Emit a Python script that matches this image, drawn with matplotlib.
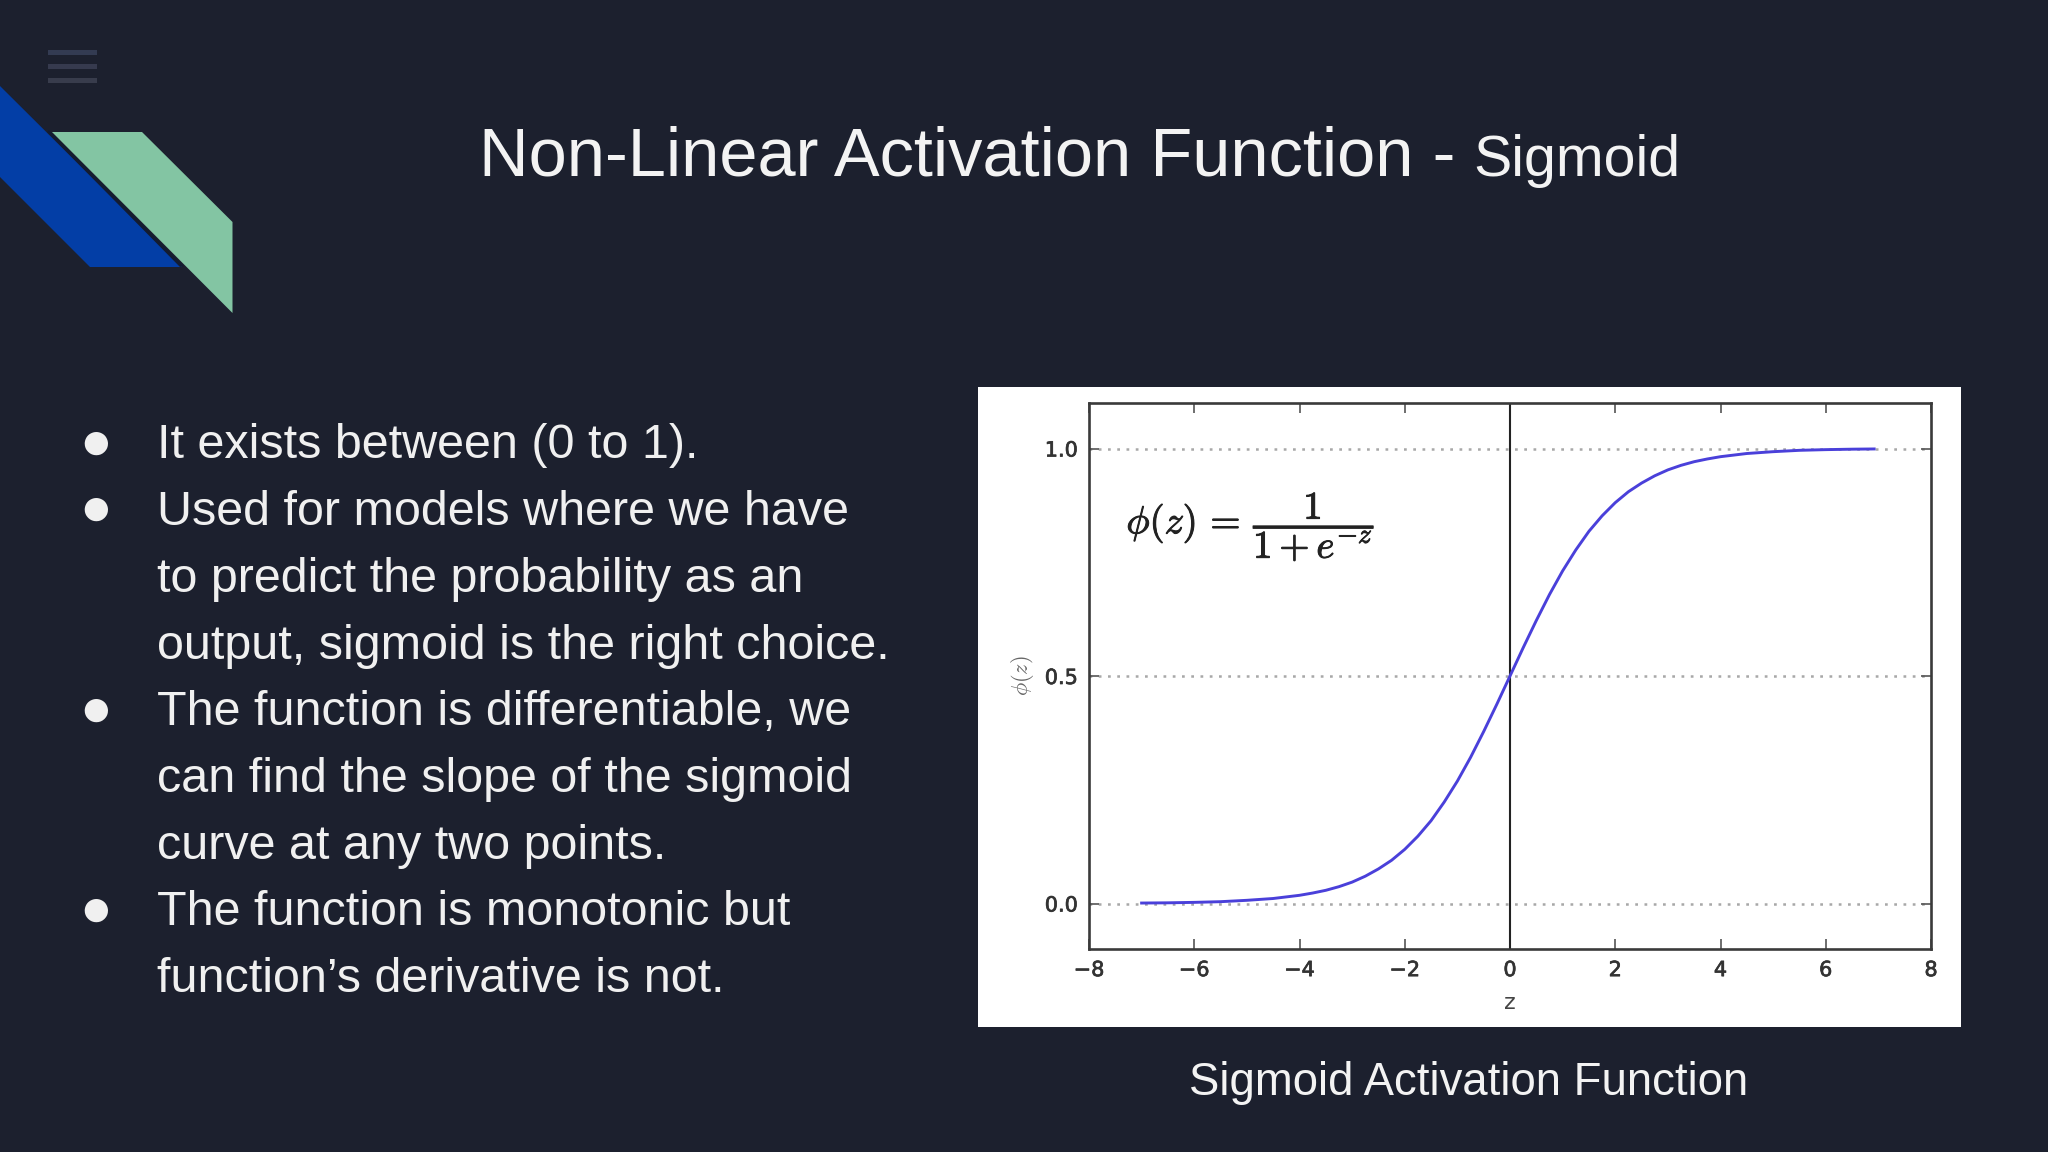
import matplotlib
matplotlib.use("Agg")
import matplotlib.pyplot as plt
import matplotlib.patheffects as pe
from matplotlib.patches import Polygon, Rectangle

plt.rcParams['mathtext.fontset'] = 'cm'

# ---- data ----
z_values = [-7, -6.5, -6, -5.5, -5, -4.5, -4, -3.75, -3.5, -3.25, -3, -2.75, -2.5, -2.25, -2,
            -1.75, -1.5, -1.25, -1, -0.75, -0.5, -0.25, 0, 0.25, 0.5, 0.75, 1, 1.25, 1.5,
            1.75, 2, 2.25, 2.5, 2.75, 3, 3.25, 3.5, 3.75, 4, 4.5, 5, 5.5, 6, 6.5, 6.92]
phi_values = [0.001, 0.0015, 0.0025, 0.004, 0.007, 0.011, 0.018, 0.023, 0.029, 0.037, 0.047,
              0.060, 0.076, 0.095, 0.119, 0.148, 0.182, 0.223, 0.269, 0.321, 0.378, 0.438,
              0.5, 0.562, 0.622, 0.679, 0.731, 0.777, 0.818, 0.852, 0.881, 0.905, 0.924,
              0.940, 0.953, 0.963, 0.971, 0.977, 0.982, 0.989, 0.993, 0.996, 0.9975, 0.9985, 0.999]
x_ticks = [-8, -6, -4, -2, 0, 2, 4, 6, 8]
y_ticks = [0.0, 0.5, 1.0]
title_main = "Non-Linear Activation Function - "
title_sub = "Sigmoid"
caption = "Sigmoid Activation Function"
body_lines = ["It exists between (0 to 1).",
              "Used for models where we have",
              "to predict the probability as an",
              "output, sigmoid is the right choice.",
              "The function is differentiable, we",
              "can find the slope of the sigmoid",
              "curve at any two points.",
              "The function is monotonic but",
              "function\u2019s derivative is not."]
bullet_lines = [0, 1, 4, 7]

W, H = 2048, 1152
BG = "#1c202e"
SANS = ["Liberation Sans", "DejaVu Sans"]

fig = plt.figure(figsize=(W / 100, H / 100), dpi=100, facecolor=BG)

# slide layer in pixel coordinates
bg = fig.add_axes([0, 0, 1, 1])
bg.set_xlim(0, W)
bg.set_ylim(H, 0)
bg.axis("off")

bg.add_patch(Polygon([(0, 86), (182, 267), (90, 267), (0, 177)], closed=True, fc="#033ea6", ec="none"))
bg.add_patch(Polygon([(49, 130), (184, 266), (180, 267), (47, 132)], closed=True, fc="#141c30", ec="none"))
bg.add_patch(Polygon([(52, 132), (142, 132), (232.5, 222), (232.5, 313)], closed=True, fc="#83c5a3", ec="none"))
for y, col in zip((52, 66, 80), ("#333b52", "#363a4e", "#383c4c")):
    bg.add_patch(Rectangle((48, y - 2.5), 49, 5, fc=col, ec="none"))
bg.add_patch(Rectangle((977.5, 387), 983.5, 640, fc="white", ec="none"))

bg.text(479, 175, title_main, color="#f3f3f3", fontsize=49.4, family=SANS, va="baseline")
bg.text(1473, 176, title_sub, color="#f3f3f3", fontsize=41.2, family=SANS, va="baseline")
bg.text(1469, 1095, caption, color="#f3f3f3", fontsize=32.8, family=SANS, va="baseline", ha="center")

for i, line in enumerate(body_lines):
    yb = 458.5 + i * 66.7
    bg.text(157, yb, line, color="#f0f0f0", fontsize=34.9, family=SANS, va="baseline")
    if i in bullet_lines:
        bg.text(96, yb - 14, "\u25cf", color="#f0f0f0", fontsize=39, family=SANS, va="center", ha="center")

# chart
left, right, top, bottom = 1089, 1931, 403, 949
ax = fig.add_axes([left / W, 1 - bottom / H, (right - left) / W, (bottom - top) / H], facecolor="white")
ax.set_xlim(-8, 8)
ax.set_ylim(-0.1, 1.1)
for yv in y_ticks:
    ax.axhline(yv, color="#a8a8a8", ls=(0, (1.1, 2.6)), lw=1.8, zorder=1)
ax.axvline(0, color="#222222", lw=1.5, zorder=2)
ax.plot(z_values, phi_values, color="#4a40da", lw=2.1, zorder=3)
ax.set_xticks(x_ticks)
ax.set_yticks(y_ticks)
ax.set_yticklabels([f"{v:.1f}" for v in y_ticks])
ax.tick_params(direction="in", length=7, width=1.2, color="#555555", top=True, right=True,
               labelsize=15, labelcolor="#333333", pad=8)
stroke = [pe.withStroke(linewidth=0.5, foreground="#333333")]
for lab in ax.get_xticklabels() + ax.get_yticklabels():
    lab.set_path_effects(stroke)
for s in ax.spines.values():
    s.set_linewidth(1.9)
    s.set_color("#3a3a3a")
ax.set_xlabel("z", fontsize=16, color="#444444", labelpad=9)
ax.set_ylabel(r"$\phi(z)$", fontsize=16, color="#666666", labelpad=6)
eq = ax.text(-7.29, 0.83, r"$\phi(z)\,=\,\dfrac{1}{1+e^{-z}}$", fontsize=28, color="#222222", va="center", ha="left")
eq.set_path_effects([pe.withStroke(linewidth=0.7, foreground="#222222")])

fig.savefig("out.png", dpi=100, facecolor=BG)
